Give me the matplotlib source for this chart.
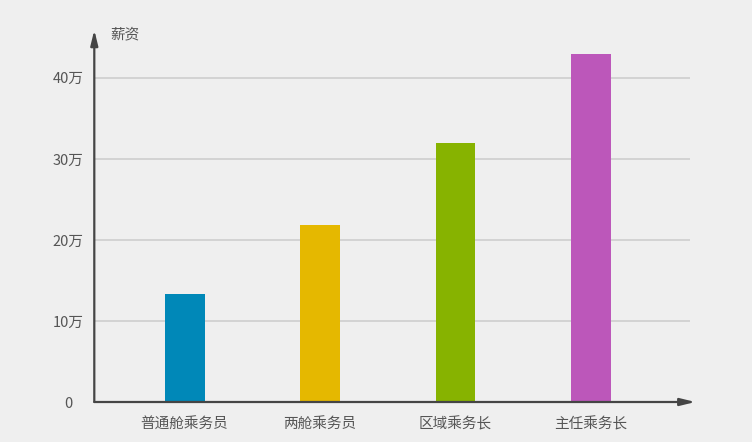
import matplotlib
matplotlib.use("Agg")
import matplotlib.pyplot as plt

plt.rcParams['font.family'] = ['Noto Sans CJK SC', 'DejaVu Sans']

# data (万)
categories = ['普通舱乘务员', '两舱乘务员', '区域乘务长', '主任乘务长']
salaries = [13.3, 21.9, 32.0, 43.0]
bar_colors = ['#0088b8', '#e5b800', '#87b300', '#bc57ba']
y_ticks = [0, 10, 20, 30, 40]
y_tick_labels = ['0', '10万', '20万', '30万', '40万']

bg = '#efefef'
text_color = '#555555'
axis_color = '#454545'

fig = plt.figure(figsize=(7.52, 4.42), dpi=100, facecolor=bg)
ax = fig.add_axes([94.3 / 752, 40 / 442, 595.7 / 752, 372 / 442])
ax.set_facecolor(bg)

x = list(range(len(categories)))
ax.bar(x, salaries, width=0.295, color=bar_colors, zorder=3)

ax.set_xlim(-0.666, 3.731)
ax.set_ylim(0, 45.9)

# grid
ax.set_yticks(y_ticks)
ax.set_yticklabels(y_tick_labels)
ax.yaxis.grid(True, color='#d0d0d0', linewidth=1.3, zorder=0)
ax.xaxis.grid(False)

ax.set_xticks(x)
ax.set_xticklabels(categories)

ax.tick_params(axis='y', length=0, pad=19, labelsize=10.5, labelcolor=text_color)
for lbl in ax.get_yticklabels():
    lbl.set_horizontalalignment('center')
    lbl.set_fontweight('medium')
ax.tick_params(axis='x', length=0, pad=11, labelsize=10.5, labelcolor=text_color)
for lbl in ax.get_xticklabels():
    lbl.set_fontweight('medium')

for s in ax.spines.values():
    s.set_visible(False)

# axes with arrows
arrow = dict(arrowstyle='-|>,head_length=0.9,head_width=0.22', color=axis_color,
             lw=1.6, shrinkA=0, shrinkB=0)
ax.annotate('', xy=(1.009, 0), xytext=(0, 0), xycoords='axes fraction',
            arrowprops=arrow, annotation_clip=False)
ax.annotate('', xy=(0, 1.0), xytext=(0, 0), xycoords='axes fraction',
            arrowprops=arrow, annotation_clip=False)

fig.text(125 / 752, 1 - 34 / 442, '薪资', ha='center', va='center',
         fontsize=10.5, color=text_color, fontweight='medium')

fig.savefig('out.png', dpi=100, facecolor=bg)
